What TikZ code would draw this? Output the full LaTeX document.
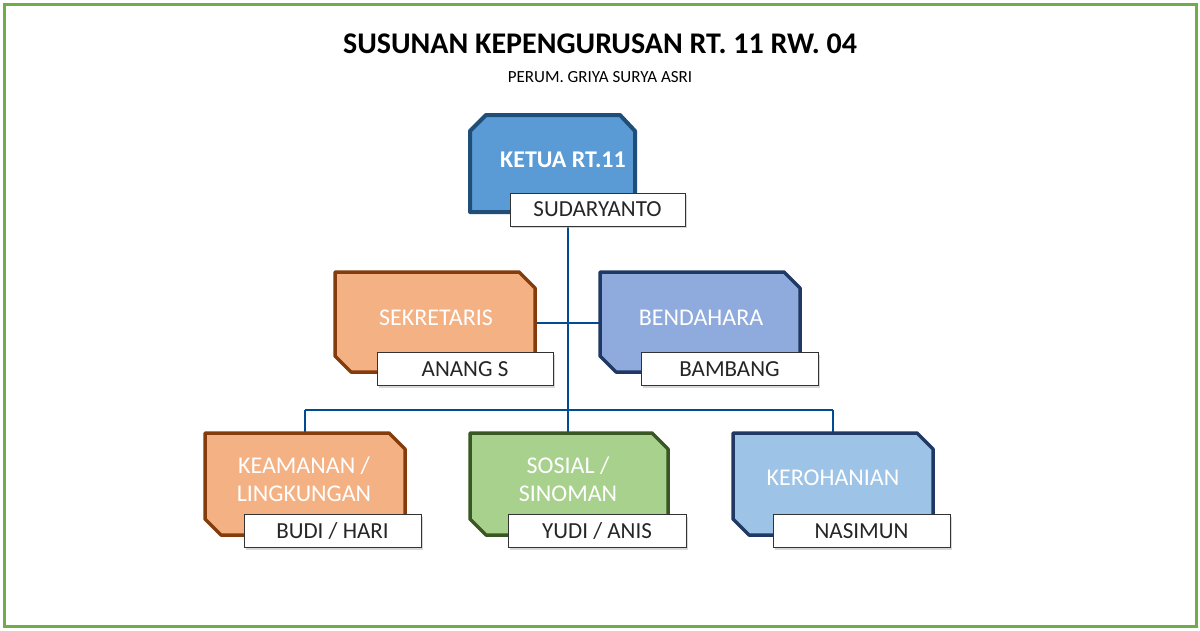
\documentclass[tikz,border=0pt]{standalone}
\usepackage{fontspec}
\setmainfont{Carlito}
\usetikzlibrary{shadows}
\begin{document}
\begin{tikzpicture}[x=1pt,y=-1pt,
  namebox/.style={draw=black!80,fill=white,line width=0.8pt,minimum height=33pt,inner sep=0pt,font=\fontsize{23}{23}\selectfont,text=black!85,drop shadow={shadow xshift=2pt,shadow yshift=-2pt,fill=black!30}},
  role/.style={font=\fontsize{24}{28}\selectfont,text=white,align=center},
  conn/.style={draw=blue!40!black!70!cyan,line width=1.2pt}]
\useasboundingbox (0,0) rectangle (1200,630);
\fill[white] (0,0) rectangle (1200,630);
\draw[draw={rgb,255:red,112;green,173;blue,71},line width=3pt] (4,4) rectangle (1196,626);
\node[font=\bfseries\fontsize{30}{30}\selectfont] (title) at (600,44) {SUSUNAN KEPENGURUSAN RT. 11 RW. 04};
\node[font=\fontsize{17}{17}\selectfont] (sub) at (600,77) {PERUM. GRIYA SURYA ASRI};
% connectors
\coordinate (j1) at (568,323);
\coordinate (j2) at (568,410);
\coordinate (l) at (305,410);
\coordinate (r) at (833,410);
\draw[conn] (568,226) -- (j2);
\draw[conn] (535,323) -- (600,323);
\draw[conn] (l) -- (r);
\draw[conn] (l) -- (305,433);
\draw[conn] (j2) -- (568,433);
\draw[conn] (r) -- (833,433);
% top box
\draw[fill={rgb,255:red,91;green,155;blue,213},draw={rgb,255:red,31;green,78;blue,121},line width=4pt,line join=round]
 (486,115) -- (620,115) -- (635,131) -- (635,212) -- (470,212) -- (470,131) -- cycle;
\node[role,font=\bfseries\fontsize{24}{28}\selectfont] (ketua) at (563,160) {KETUA RT.11};
\node[namebox,minimum width=175pt] (n0) at (597.5,209.5) {SUDARYANTO};
% lower boxes
\newcommand\cbox[6]{\draw[fill=#5,draw=#6,line width=3.5pt,line join=round]
 (#1,#2) -- (#3-16,#2) -- (#3,#2+16) -- (#3,#4) -- (#1+16,#4) -- (#1,#4-16) -- cycle;}
\definecolor{orf}{RGB}{244,177,131}\definecolor{ord}{RGB}{132,60,12}
\definecolor{bf}{RGB}{143,170,220}\definecolor{bd}{RGB}{32,56,100}
\definecolor{gf}{RGB}{169,209,142}\definecolor{gd}{RGB}{56,87,35}
\definecolor{lf}{RGB}{157,195,230}\definecolor{ld}{RGB}{31,56,100}
\cbox{335}{272}{535}{372}{orf}{ord}
\node[role] (sek) at (436,318) {SEKRETARIS};
\node[namebox,minimum width=176pt] (n1) at (465,369) {ANANG S};
\cbox{600}{272}{800}{372}{bf}{bd}
\node[role] (ben) at (701,318) {BENDAHARA};
\node[namebox,minimum width=177pt] (n2) at (729.5,369) {BAMBANG};
\cbox{205}{433}{405}{535}{orf}{ord}
\node[role] (kea) at (304,479) {KEAMANAN /\\LINGKUNGAN};
\node[namebox,minimum width=177pt] (n3) at (332.5,531) {BUDI / HARI};
\cbox{470}{433}{668}{535}{gf}{gd}
\node[role] (sos) at (568,479) {SOSIAL /\\SINOMAN};
\node[namebox,minimum width=178pt] (n4) at (597,531) {YUDI / ANIS};
\cbox{733}{433}{933}{535}{lf}{ld}
\node[role] (ker) at (833,478) {KEROHANIAN};
\node[namebox,minimum width=177pt] (n5) at (861.5,531) {NASIMUN};
\end{tikzpicture}
\end{document}
